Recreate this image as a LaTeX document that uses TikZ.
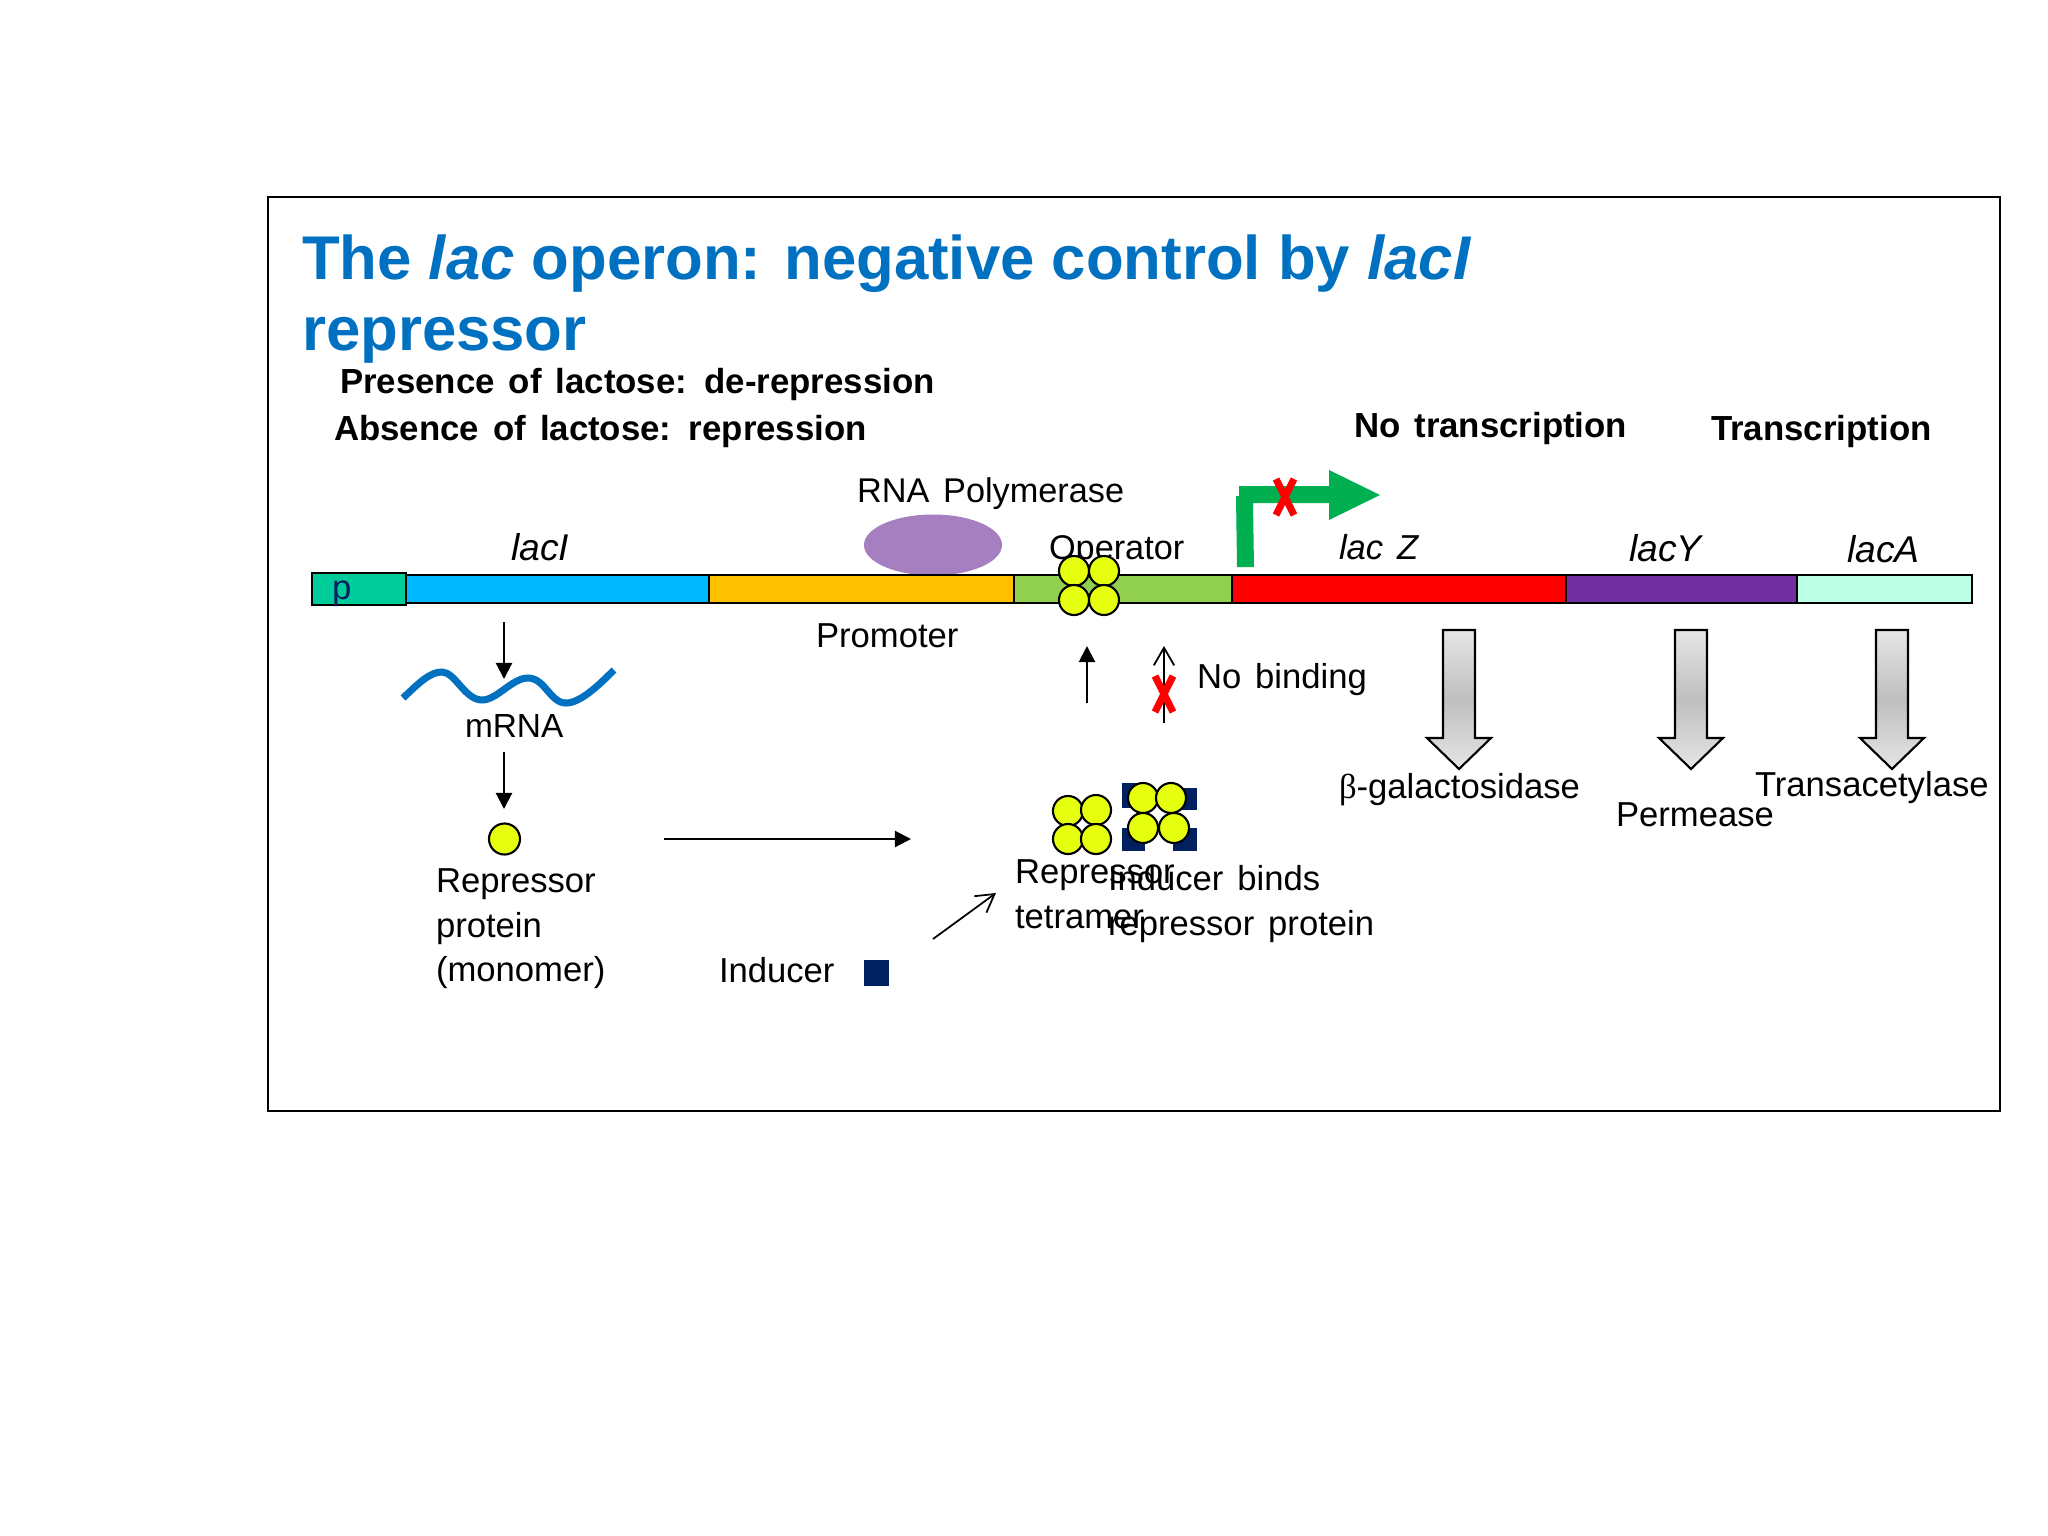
\documentclass[tikz,border=0pt]{standalone}
\usepackage{fontspec}
\setmainfont{Liberation Sans}[WordSpace=1.45]
\newfontfamily\headfont{Liberation Sans}
\newfontfamily\symbfont{Liberation Serif}
\usetikzlibrary{arrows.meta,shapes.geometric}
\definecolor{titleblue}{HTML}{0070C0}
\definecolor{navy}{HTML}{002060}
\definecolor{ygreen}{HTML}{E6FF0F}
\definecolor{rnapurple}{HTML}{A67FC0}
\definecolor{tealp}{HTML}{00CC99}
\definecolor{lacblue}{HTML}{00B8FF}
\definecolor{promorange}{HTML}{FFC000}
\definecolor{opgreen}{HTML}{92D050}
\definecolor{lacpurple}{HTML}{7030A0}
\definecolor{lacmint}{HTML}{BEFFE8}
\definecolor{arrowgreen}{HTML}{00B050}
\tikzset{
  lbl/.style={anchor=base west,inner sep=0pt,outer sep=0pt,align=left,font=\fontsize{9.85}{12.6}\selectfont},
  tightlbl/.style={lbl,font=\fontsize{9.75}{12.6}\selectfont},
  genelbl/.style={lbl,font=\fontsize{10.6}{12.6}\selectfont\itshape},
  blbl/.style={lbl,font=\fontsize{9.9}{12.6}\selectfont\bfseries},
  ttl/.style={lbl,text=titleblue,font=\fontsize{17.55}{20.2}\selectfont\headfont\bfseries},
  seg/.style={draw=black,line width=0.7pt},
  mono/.style={circle,draw=black,fill=ygreen,line width=0.6pt,minimum size=30*0.2845pt,inner sep=0pt},
  inducer/.style={fill=navy,draw=navy,line width=0.3pt},
  solidarrow/.style={draw=black,line width=0.6pt,-{Triangle[length=4.6pt,width=4.6pt]}},
  openarrow/.style={draw=black,line width=0.5pt,-{Straight Barb[length=5pt,width=5.8pt,line width=0.5pt]}},
  block/.style={draw=black,line width=0.6pt,top color=gray!20,bottom color=gray!20,middle color=gray!50},
  redx/.style={draw=red,line width=2pt},
}
\begin{document}
\begin{tikzpicture}[x=0.01cm,y=-0.01cm]
\useasboundingbox (0,0) rectangle (2048,1536);
\fill[white] (0,0) rectangle (2048,1536);
\draw[black,line width=0.6pt] (268,197) rectangle (2000,1111);

\node[ttl] (title) at (302,350.5) {The \textit{lac} operon: negative control by \textit{lacI}\\repressor};
\node[blbl] (presence) at (340,393) {Presence of lactose: de-repression};
\node[blbl] (absence) at (334,440) {Absence of lactose: repression};
\node[blbl] (notrans) at (1354,437) {No transcription};
\node[blbl] (trans) at (1711,440) {Transcription};

% RNA polymerase (behind the bar)
\node[ellipse,fill=rnapurple,minimum width=138*0.2845pt,minimum height=61*0.2845pt,inner sep=0pt] (rnap) at (933,545) {};

% DNA bar
\draw[seg,fill=lacblue] (406,575) rectangle (709,603);
\draw[seg,fill=promorange] (709,575) rectangle (1014,603);
\draw[seg,fill=opgreen] (1014,575) rectangle (1232,603);
\draw[seg,fill=red] (1232,575) rectangle (1566,603);
\draw[seg,fill=lacpurple] (1566,575) rectangle (1797,603);
\draw[seg,fill=lacmint] (1797,575) rectangle (1972,603);
\draw[seg,fill=tealp] (312,573) rectangle (406,605);

\node[lbl,text=navy] (p) at (332,599) {p};
\node[genelbl] (lacI) at (511,560) {lacI};
\node[tightlbl] (rnaplabel) at (857,502) {RNA Polymerase};
\node[lbl] (promoter) at (816,647) {Promoter};
\node[tightlbl] (operator) at (1049,559) {Operator};
\node[lbl] (lacZ) at (1339,559) {\textit{lac Z}};
\node[genelbl] (lacY) at (1629,561) {lacY};
\node[genelbl] (lacA) at (1847,562) {lacA};

% tetramer on the operator
\node[mono] (b1) at (1074,571) {};
\node[mono] (b2) at (1104,571) {};
\node[mono] (b3) at (1074,600) {};
\node[mono] (b4) at (1104,600) {};

% transcription arrow
\fill[arrowgreen] (1237,567) -- (1254,567) -- (1253,503) -- (1329,503) -- (1329,520) -- (1380,495) -- (1329,470) -- (1329,486) -- (1239,486) -- (1239,496) -- (1236,496) -- cycle;
\draw[redx] (1276,479) -- (1294,515) (1294,479) -- (1276,515);

% left column
\coordinate (a1s) at (504,622);
\coordinate (a1e) at (504,679);
\draw[line width=2pt,titleblue] (403,698) .. controls (420,682) and (430,672) .. (442,672) .. controls (455,672) and (465,700) .. (482,700) .. controls (497,700) and (512,678) .. (528,678) .. controls (545,678) and (550,703) .. (566,703) .. controls (580,703) and (598,686) .. (614,670);
\draw[solidarrow] (a1s) -- (a1e);
\node[lbl,font=\fontsize{9.5}{12.6}\selectfont] (mrna) at (465,737) {mRNA};
\coordinate (a2s) at (504,752);
\coordinate (a2e) at (504,809);
\draw[solidarrow] (a2s) -- (a2e);
\node[mono,minimum size=31*0.2845pt] (monomer) at (504.5,839) {};
\node[lbl] (replabel) at (436,981.5) {Repressor\\protein\\(monomer)};
\coordinate (a3s) at (664,839);
\coordinate (a3e) at (911,839);
\draw[solidarrow] (a3s) -- (a3e);
\node[lbl] (inducerlabel) at (719,982) {Inducer};
\node[inducer,minimum size=24*0.2845pt,inner sep=0pt] (inducersq) at (876.5,973) {};
\coordinate (a4s) at (933,939);
\coordinate (a4e) at (996,893);
\draw[openarrow] (a4s) -- (a4e);

% tetramers below
\node[mono] (t1) at (1068,811) {};
\node[mono] (t2) at (1096,810) {};
\node[mono] (t3) at (1068,839) {};
\node[mono] (t4) at (1096,839) {};
\fill[navy] (1122,783) rectangle (1147,808);
\fill[navy] (1172,788) rectangle (1197,810);
\fill[navy] (1122,828) rectangle (1145,851);
\fill[navy] (1173,828) rectangle (1197,851);
\node[mono] (i1) at (1143,798) {};
\node[mono] (i2) at (1171,798) {};
\node[mono] (i3) at (1143,828) {};
\node[mono] (i4) at (1174,828) {};
\node[lbl] (tetlabel) at (1015,928) {Repressor\\tetramer};
\node[lbl] (bindlabel) at (1108,935) {Inducer binds\\repressor protein};

% binding arrows
\coordinate (u1s) at (1087,703);
\coordinate (u1e) at (1087,646);
\draw[solidarrow] (u1s) -- (u1e);
\coordinate (u2s) at (1164,723);
\coordinate (u2e) at (1164,646);
\draw[openarrow] (u2s) -- (u2e);
\draw[redx] (1155,676) -- (1173,712) (1173,676) -- (1155,712);
\node[lbl] (nobinding) at (1197,688) {No binding};

% block arrows
\draw[block] (1443,630) -- (1475,630) -- (1475,738) -- (1491,738) -- (1459,769) -- (1427,738) -- (1443,738) -- cycle;
\draw[block] (1675,630) -- (1707,630) -- (1707,738) -- (1723,738) -- (1691,769) -- (1659,738) -- (1675,738) -- cycle;
\draw[block] (1876,630) -- (1908,630) -- (1908,738) -- (1924,738) -- (1892,769) -- (1860,738) -- (1876,738) -- cycle;
\node[lbl] (bgal) at (1339,798) {{\symbfont β}-galactosidase};
\node[lbl] (perm) at (1616,826) {Permease};
\node[lbl] (transac) at (1755,796) {Transacetylase};
\end{tikzpicture}
\end{document}
